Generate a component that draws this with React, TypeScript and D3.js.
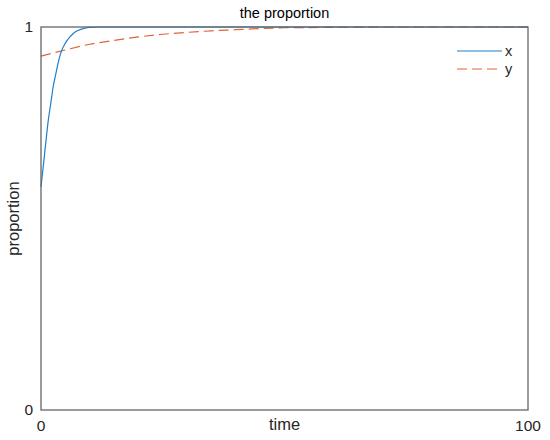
import React, { useEffect, useRef } from 'react';
import * as d3 from 'd3';

// time points and values
const tX = [0, 0.5, 1, 1.5, 2, 2.5, 3, 3.5, 4, 5, 6, 7, 8, 9, 10, 12, 20, 40, 60, 80, 100];
const valX = [0.583, 0.64, 0.7, 0.757, 0.8, 0.844, 0.875, 0.905, 0.93, 0.958, 0.975, 0.987, 0.993, 0.997, 0.999, 1, 1, 1, 1, 1, 1];

const tY = [0, 5, 10, 15, 20, 25, 30, 35, 40, 45, 50, 60, 70, 80, 100];
const valY = [0.924, 0.94, 0.955, 0.965, 0.974, 0.981, 0.986, 0.99, 0.993, 0.996, 0.998, 0.999, 1, 1, 1];

const xTicks = [0, 100];
const yTicks = [0, 1];
const seriesNames = ['x', 'y'];
const colors = ['#1f7fc8', '#e0643a'];

const App = () => {
  const svgRef = useRef<SVGSVGElement>(null);

  useEffect(() => {
    const W = 550, H = 440;
    const margin = { top: 27, right: 22, bottom: 30, left: 41 };
    const width = W - margin.left - margin.right;
    const height = H - margin.top - margin.bottom;
    const font = 'Liberation Sans, Arial, sans-serif';

    const svg = d3.select(svgRef.current)
      .attr('width', W)
      .attr('height', H);
    svg.selectAll('*').remove();

    const x = d3.scaleLinear().domain([0, 100]).range([0, width]);
    const y = d3.scaleLinear().domain([0, 1]).range([height, 0]);

    const g = svg.append('g')
      .attr('transform', 'translate(' + margin.left + ',' + margin.top + ')');

    const line = d3.line<[number, number]>()
      .x(d => x(d[0]))
      .y(d => y(d[1]))
      .curve(d3.curveMonotoneX);

    const dataX = tX.map((t, i) => [t, valX[i]] as [number, number]);
    const dataY = tY.map((t, i) => [t, valY[i]] as [number, number]);

    g.append('path')
      .datum(dataY)
      .attr('fill', 'none')
      .attr('stroke', colors[1])
      .attr('stroke-width', 1.2)
      .attr('stroke-dasharray', '10,5')
      .attr('d', line);

    g.append('path')
      .datum(dataX)
      .attr('fill', 'none')
      .attr('stroke', colors[0])
      .attr('stroke-width', 1.2)
      .attr('d', line);

    // box
    g.append('rect')
      .attr('x', 0)
      .attr('y', 0)
      .attr('width', width)
      .attr('height', height)
      .attr('fill', 'none')
      .attr('stroke', '#666')
      .attr('stroke-width', 1.3);

    // tick labels
    g.selectAll('.xt')
      .data(xTicks)
      .enter()
      .append('text')
      .attr('x', d => x(d))
      .attr('y', height + 21)
      .attr('text-anchor', 'middle')
      .attr('font-family', font)
      .attr('font-size', 15.5)
      .attr('fill', '#262626')
      .text(d => d);

    g.selectAll('.yt')
      .data(yTicks)
      .enter()
      .append('text')
      .attr('x', -8)
      .attr('y', d => y(d) + 5)
      .attr('text-anchor', 'end')
      .attr('font-family', font)
      .attr('font-size', 15.5)
      .attr('fill', '#262626')
      .text(d => d);

    // axis labels and title
    g.append('text')
      .attr('x', width / 2)
      .attr('y', height + 20)
      .attr('text-anchor', 'middle')
      .attr('font-family', font)
      .attr('font-size', 16.5)
      .attr('fill', '#262626')
      .text('time');

    g.append('text')
      .attr('transform', 'translate(' + (-22) + ',' + height / 2 + ') rotate(-90)')
      .attr('text-anchor', 'middle')
      .attr('font-family', font)
      .attr('font-size', 16.5)
      .attr('fill', '#262626')
      .text('proportion');

    g.append('text')
      .attr('x', width / 2)
      .attr('y', -9)
      .attr('text-anchor', 'middle')
      .attr('font-family', font)
      .attr('font-size', 14.5)
      .attr('fill', '#000')
      .text('the proportion');

    // legend
    const legend = g.append('g')
      .attr('transform', 'translate(' + (width - 71) + ',24)');
    seriesNames.forEach((name, i) => {
      legend.append('line')
        .attr('x1', 0)
        .attr('x2', 45)
        .attr('y1', i * 18)
        .attr('y2', i * 18)
        .attr('stroke', colors[i])
        .attr('stroke-width', 1.2)
        .attr('stroke-dasharray', i === 1 ? '10,5' : null);
      legend.append('text')
        .attr('x', 48)
        .attr('y', i * 18 + 5)
        .attr('font-family', font)
        .attr('font-size', 14.5)
        .attr('fill', '#262626')
        .text(name);
    });
  }, []);

  return (
    <svg ref={svgRef} style={{ position: 'absolute', left: 0, top: 0 }}></svg>
  );
};

export default App;
